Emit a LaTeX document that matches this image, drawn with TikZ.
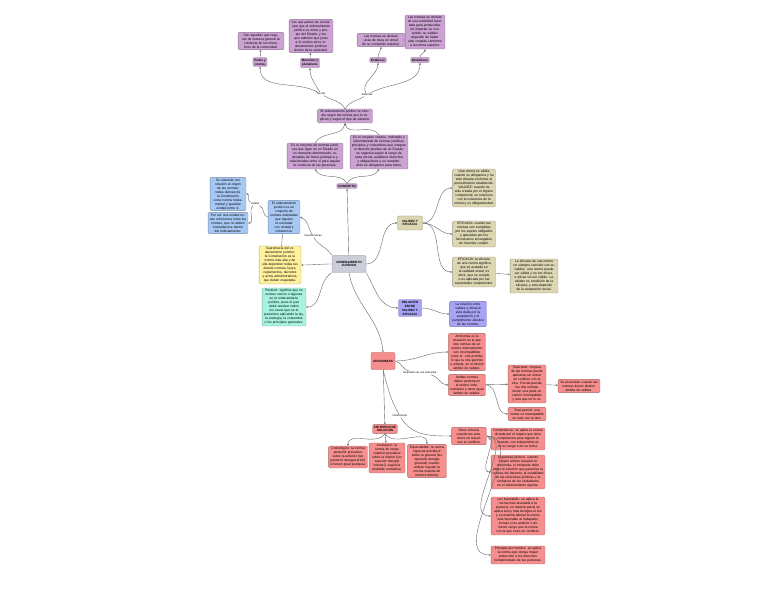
\documentclass[tikz,border=0pt]{standalone}
\usepackage{fontspec}
\setmainfont{Liberation Sans}
\usetikzlibrary{arrows.meta}

\definecolor{purplecard}{HTML}{CBA2D2}
\definecolor{bluecard}{HTML}{A8C8F4}
\definecolor{yellowcard}{HTML}{FFF09C}
\definecolor{cyancard}{HTML}{A8F3E0}
\definecolor{tancard}{HTML}{DCD6B3}
\definecolor{violetcard}{HTML}{A9A3F6}
\definecolor{redcard}{HTML}{F68E8E}
\definecolor{graycard}{HTML}{C9CED8}
\definecolor{linkgray}{HTML}{666666}

\newcommand\cardfont{\fontsize{3.3}{4}\selectfont}
\newcommand\headfont{\fontsize{3.1}{3.8}\selectfont\bfseries}
\newcommand\tagfont{\fontsize{2.6}{3}\selectfont}

\begin{document}
\begin{tikzpicture}[
        x=1pt, y=1pt,
        >={Stealth[length=2.2pt,width=1.8pt]},
        card/.style={
            draw=#1!70!black,
            line width=0.3pt,
            fill=#1,
            rounded corners=1.2pt,
            align=center,
            inner sep=1.4pt,
            font=\cardfont
        },
        head/.style={card=#1, font=\headfont},
        tag/.style={fill=white, inner sep=0.5pt, font=\tagfont},
        link/.style={->, draw=linkgray, line width=0.4pt},
        joint/.style={draw=linkgray, line width=0.4pt}
    ]
        \useasboundingbox (0,0) rectangle (768,-593);
        \fill[white] (0,0) rectangle (768,-593);

        % top
        \node[card=purplecard, text width=43pt] (T1) at (261,-41) {Son aquellas que regulan de manera general la conducta de los miembros de la comunidad.};
        \node[card=purplecard, text width=41pt] (T2) at (311,-36) {Los que parten de considerar que el ordenamiento jurídico es único y propio del Estado, y los que admiten que junto a él existen otros ordenamientos jurídicos dentro de la sociedad.};
        \node[card=purplecard, text width=45pt] (T3) at (381,-40) {Las normas se derivan unas de otras en virtud de su contenido material.};
        \node[card=purplecard, text width=37pt] (T4) at (425,-32) {Las normas se derivan de una autoridad facultada para producirlas, sin importar su contenido; su validez depende de haber sido creadas conforme a la norma superior.};
        \node[head=purplecard] (L1) at (260,-62) {Poder y\\norma};
        \node[head=purplecard] (L2) at (310,-63) {Monismo y\\pluralismo};
        \node[head=purplecard] (L3) at (378,-60) {Estáticos};
        \node[head=purplecard] (L4) at (420,-60) {Dinámicos};
        \node[tag] (teorias) at (321,-94) {Teorías};
        \node[tag] (sistemas) at (367,-95) {Sistemas};
        \node[card=purplecard, text width=52pt] (M1) at (345,-116) {El ordenamiento jurídico se estudia según las teorías que lo explican y según el tipo de sistema.};
        \node[card=purplecard, text width=53pt] (M2) at (315,-156) {Es el conjunto de normas jurídicas que rigen en un Estado en un momento determinado, ordenadas de forma jerárquica y relacionadas entre sí para regular la conducta de las personas.};
        \node[card=purplecard, text width=55pt] (M3) at (379,-152) {Es el conjunto unitario, ordenado y sistematizado de normas jurídicas, principios y costumbres que integran el derecho positivo de un Estado; se organiza según el rango de cada norma, establece derechos y obligaciones y su cumplimiento es obligatorio para todos.};
        \node[head=purplecard] (concepto) at (347,-186) {CONCEPTO};
        \node[head=graycard, minimum width=34pt, minimum height=17pt] (ORD) at (349,-264) {ORDENAMIENTO\\JURÍDICO};

        % left
        \node[card=bluecard, text width=33pt] (A1) at (228,-194) {Se entiende con relación al origen de las normas: todas derivan de la Constitución como norma fundamental y guardan unidad entre sí.};
        \node[card=bluecard, text width=37pt] (A2) at (228,-223) {Por ser una unidad existe coherencia entre las normas, que no deben contradecirse dentro del ordenamiento.};
        \node[tag] (unidad) at (255,-204) {Unidad};
        \node[card=bluecard, text width=29pt] (A3) at (284,-217) {El ordenamiento jurídico es un conjunto de normas ordenadas que regulan la sociedad con unidad y coherencia.};
        \node[tag] (caract) at (313,-236) {Características};
        \node[card=yellowcard, text width=39pt] (Y) at (280,-265) {Supremacía del ordenamiento jurídico: la Constitución es la norma más alta y de ella dependen todas las demás normas, leyes, reglamentos, decretos y actos administrativos, que deben respetarla.};
        \node[card=cyancard, text width=41pt] (C) at (284,-307) {Plenitud: significa que no existen vacíos o lagunas en el ordenamiento jurídico, pues el juez debe resolver todos los casos que se le presenten aplicando la ley, la analogía, la costumbre o los principios generales.};

        % right
        \node[head=tancard, minimum width=25pt, minimum height=14pt] (VE) at (410,-223) {VALIDEZ Y\\EFICACIA};
        \node[card=tancard, text width=40pt] (V1) at (474,-188) {Una norma es válida cuando es obligatoria y ha sido dictada conforme al procedimiento establecido. VALIDEZ: cuando ha sido creada por el órgano competente; se relaciona con la existencia de la norma y su obligatoriedad.};
        \node[card=tancard, text width=40pt] (V2) at (474,-234) {EFICACIA: cuando las normas son cumplidas por los sujetos obligados y aplicadas por los funcionarios encargados de hacerlas cumplir.};
        \node[card=tancard, text width=40pt] (V3) at (474,-272) {EFICACIA: la eficacia de una norma significa que es acatada en la realidad social, es decir, que se cumple o es aplicada por las autoridades competentes.};
        \node[card=tancard, text width=45pt] (V4) at (534,-276) {La eficacia de una norma no siempre coincide con su validez: una norma puede ser válida y no ser eficaz, o eficaz sin ser válida. La validez es condición de la eficacia, y esta depende de la aceptación social.};
        \node[head=violetcard, minimum width=23pt] (RVE) at (410,-308) {RELACIÓN\\ENTRE\\VALIDEZ Y\\EFICACIA};
        \node[card=violetcard, text width=34pt] (RVE1) at (468,-314) {La relación entre validez y eficacia está dada por la aceptación y el cumplimiento efectivo de las normas.};

        % bottom
        \node[head=redcard, minimum width=24pt, minimum height=17pt] (ANT) at (383,-361) {ANTINOMIAS};
        \node[card=redcard, text width=34pt] (AN1) at (467,-352) {Antinomia es la situación en la que dos normas de un mismo ordenamiento son incompatibles entre sí: una prohíbe lo que la otra permite u ordena, en el mismo ámbito de validez.};
        \node[card=redcard, text width=34pt] (AN2) at (467,-385) {Ambas normas deben pertenecer al mismo ordenamiento y tener igual ámbito de validez.};
        \node[tag] (requisitos) at (420,-373) {Requisitos de una antinomia};
        \node[card=redcard, text width=35pt] (AN3) at (527,-384) {Total-total: ninguna de las normas puede aplicarse sin entrar en conflicto con la otra. Parcial-parcial: las dos normas tienen una parte en común incompatible y otra que no lo es.};
        \node[card=redcard, text width=39pt] (AN4) at (579,-386) {Se presentan cuando las normas tienen distinto ámbito de validez.};
        \node[card=redcard, text width=35pt] (AN5) at (527,-414) {Total-parcial: una norma es incompatible en todo con la otra.};
        \node[tag] (clasif) at (400,-416) {Clasificación};
        \node[head=redcard] (CR) at (385,-429) {CRITERIOS DE\\SOLUCIÓN};
        \node[card=redcard, text width=36pt] (C1) at (348,-457) {Cronológico: la norma posterior prevalece sobre la anterior (lex posterior derogat priori) si tienen igual jerarquía.};
        \node[card=redcard, text width=33pt] (C2) at (387,-458) {Jerárquico: la norma de rango superior prevalece sobre la inferior (lex superior derogat inferiori), según la pirámide normativa.};
        \node[card=redcard, text width=36pt] (C3) at (427,-461) {Especialidad: la norma especial prevalece sobre la general (lex specialis derogat generali) cuando ambas regulan la misma materia de manera distinta.};
        \node[card=redcard, text width=32pt] (BR1) at (469,-436) {Otros criterios cuando los anteriores no resuelven el conflicto:};
        \node[card=redcard, text width=51pt] (B1) at (518,-439) {Competencia: se aplica la norma dictada por el órgano que tiene competencia para regular la materia, con independencia de su rango o de su fecha.};
        \node[card=redcard, text width=51pt] (B2) at (518,-472) {Seguridad jurídica: cuando ningún criterio resuelve la antinomia, el intérprete debe elegir la solución que garantice la certeza del derecho, la estabilidad de las relaciones jurídicas y la confianza de los ciudadanos en el ordenamiento vigente.};
        \node[card=redcard, text width=51pt] (B3) at (518,-516) {Lex favorabilis: se aplica la norma más favorable a la persona; en materia penal se aplica la ley más benigna al reo y en materia laboral la norma más favorable al trabajador, incluso si es anterior o de menor rango que la norma con la que entra en conflicto.};
        \node[card=redcard, text width=51pt] (B4) at (518,-555) {Principio pro homine: se aplica la norma que otorga mayor protección a los derechos fundamentales de las personas.};

        % connectors
        \draw[link] (L1) -- (T1);
        \draw[link] (L2) -- (T2);
        \draw[link] (L3) to[out=90,in=-90] (T3);
        \draw[link] (L4) to[out=90,in=-90] (T4);
        \draw[joint] (M1.north) to[out=120,in=-30] (teorias);
        \draw[link] (teorias) to[out=150,in=-90] (L1.south);
        \draw[link] (teorias) to[out=120,in=-90] (L2.south);
        \draw[joint] (M1.north) to[out=60,in=-150] (sistemas);
        \draw[link] (sistemas) to[out=120,in=-90] (L3.south);
        \draw[link] (sistemas) to[out=30,in=-90] (L4.south);
        \draw[link] (M2.north) to[out=60,in=-100] (M1.south);
        \draw[link] (M3.north) to[out=120,in=-80] (M1.south);
        \draw[link] (concepto.north) to[out=120,in=-60] (M2.south);
        \draw[link] (concepto.north) to[out=60,in=-120] (M3.south);
        \draw[link] (ORD) -- (concepto);

        \draw[joint] (ORD.north west) to[out=120,in=-60] (caract);
        \draw[link] (caract) to[out=120,in=-20] (A3.east);
        \draw[joint] (A3.west) to[out=180,in=-20] (unidad);
        \draw[link] (unidad) to[out=160,in=0] (A1.east);
        \draw[link] (unidad) to[out=-140,in=0] (A2.east);
        \draw[joint] (A3) -- (Y);
        \draw[link] (ORD.west) to[out=180,in=0] (Y.east);
        \draw[link] (ORD.south west) to[out=-150,in=0] (C.east);

        \draw[link] (ORD.east) to[out=0,in=180] (VE.west);
        \draw[link] (VE.east) to[out=0,in=180] (V1.west);
        \draw[link] (VE.east) to[out=0,in=180] (V2.west);
        \draw[link] (VE.east) to[out=0,in=180] (V3.west);
        \draw[link] (V3) -- (V4);
        \draw[link] (ORD.south east) to[out=-60,in=180] (RVE.west);
        \draw[link] (RVE.east) to[out=0,in=180] (RVE1.west);

        \draw[link] (ORD.south) to[out=-80,in=95] (ANT.north);
        \draw[link] (ANT.east) to[out=0,in=180] (AN1.west);
        \draw[joint] (ANT.east) to[out=-10,in=170] (requisitos);
        \draw[link] (requisitos) to[out=-10,in=180] (AN2.west);
        \draw[link] (AN2) -- (AN3);
        \draw[link] (AN2.east) to[out=0,in=180] (AN5.west);
        \draw[link] (AN3) -- (AN4);
        \draw[link] (ANT) -- (CR);
        \draw[joint] (ANT.south) to[out=-75,in=120] (clasif);
        \draw[link] (clasif) to[out=-60,in=180] (BR1.west);
        \draw[link] (CR.south) to[out=-120,in=90] (C1.north);
        \draw[link] (CR) -- (C2);
        \draw[link] (CR.south) to[out=-60,in=90] (C3.north);
        \draw[link] (BR1.east) to[out=0,in=180] (B1.west);
        \draw[link] (BR1.east) to[out=0,in=180] (B2.west);
        \draw[link] (BR1.east) to[out=0,in=180] (B3.west);
        \draw[link] (BR1.east) to[out=0,in=180] (B4.west);
    \end{tikzpicture}
\end{document}
